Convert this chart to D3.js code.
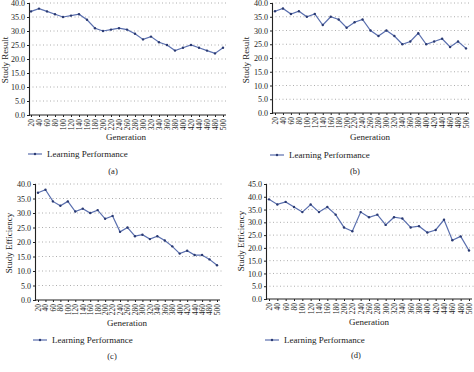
<!DOCTYPE html>
<html>
<head>
<meta charset="utf-8">
<script src="https://cdn.jsdelivr.net/npm/d3@7"></script>
<style>
  body { margin: 0; background: #fff; }
  svg { display: block; }
  text { font-family: "Liberation Serif", "DejaVu Serif", serif; fill: #222; }
</style>
</head>
<body>
<div id="chart"></div>
<script>
(function() {

    var width = 474, height = 372;

    // x categories (generation)
    var generations = [20,40,60,80,100,120,140,160,180,200,220,240,260,280,300,
                       320,340,360,380,400,420,440,460,480,500];

    // series values
    var seriesA = [37,38,37,36,35,35.5,36,34,31,30,30.5,31,30.5,29,27,28,26,25,23,24,25,24,23,22,24];
    var seriesB = [37,38,36,37,35,36,32,35,34,31,33,34,30,28,30,28,25,26,29,25,26,27,24,26,23.5];
    var seriesC = [37,38,34,32.5,34,30.5,31.5,30,31,28,29,23.5,25,22,22.5,21,22,20.5,18.5,16,17,15.5,15.5,14,12];
    var seriesD = [39,37,38,36,34,37,34,36,33,28,26.5,34,32,33,29,32,31.5,28,28.5,26,27,31,23,24.5,19];

    var ticksA = [0,5,10,15,20,25,30,35,40];
    var ticksD = [0,5,10,15,20,25,30,35,40,45];

    var svg = d3.select("#chart")
        .append("svg")
        .attr("width", width)
        .attr("height", height);

    var panels = [
        {values: seriesA, ticks: ticksA, yTitle: "Study Result", tag: "(a)",
         axisX: 29, top: 3, bottom: 115, x0: 31, x1: 223, titleX: 5, titleY: 60,
         genX: 126, genY: 137, legX: 28, legY: 154, tagX: 113, tagY: 171},
        {values: seriesB, ticks: ticksA, yTitle: "Study Result", tag: "(b)",
         axisX: 272, top: 3, bottom: 113, x0: 275, x1: 466, titleX: 246, titleY: 60,
         genX: 370, genY: 137, legX: 270, legY: 155, tagX: 355, tagY: 171},
        {values: seriesC, ticks: ticksA, yTitle: "Study Efficiency", tag: "(c)",
         axisX: 35, top: 184, bottom: 300, x0: 38, x1: 217, titleX: 9, titleY: 243,
         genX: 127, genY: 323, legX: 33, legY: 340, tagX: 112, tagY: 356},
        {values: seriesD, ticks: ticksD, yTitle: "Study Efficiency", tag: "(d)",
         axisX: 266, top: 184, bottom: 299, x0: 269, x1: 469, titleX: 241, titleY: 241,
         genX: 369, genY: 322, legX: 265, legY: 340, tagX: 356, tagY: 355}
    ];

    panels.forEach(drawPanel);

    function drawPanel(p) {
        var g = svg.append("g");
        var yMax = p.ticks[p.ticks.length - 1];

        var x = d3.scalePoint()
            .domain(generations)
            .range([p.x0, p.x1]);

        var y = d3.scaleLinear()
            .domain([0, yMax])
            .range([p.bottom, p.top]);

        // dotted grid
        g.selectAll(".grid")
            .data(p.ticks.filter(function(t) { return t > 0; }))
            .enter().append("line")
            .attr("x1", p.axisX)
            .attr("x2", p.x1 + 5)
            .attr("y1", function(d) { return y(d); })
            .attr("y2", function(d) { return y(d); })
            .attr("stroke", "#999")
            .attr("stroke-width", 0.8)
            .attr("stroke-dasharray", "1,2.5");

        // y axis
        var yAxis = g.append("g")
            .attr("transform", "translate(" + p.axisX + ",0)")
            .call(d3.axisLeft(y).tickValues(p.ticks).tickFormat(d3.format(".1f")).tickSize(2).tickPadding(2));
        yAxis.select(".domain").attr("stroke", "#222").attr("stroke-width", 1.1);
        yAxis.selectAll(".tick line").attr("stroke", "#222");
        yAxis.selectAll("text").attr("font-size", 8).attr("fill", "#222")
            .style("font-family", "Liberation Serif, serif");

        // x axis
        var xAxis = g.append("g")
            .attr("transform", "translate(0," + p.bottom + ")")
            .call(d3.axisBottom(x).tickSize(2).tickPadding(2));
        xAxis.select(".domain").attr("stroke", "#222").attr("stroke-width", 1.1)
            .attr("d", "M" + p.axisX + ",0H" + (p.x1 + 3));
        xAxis.selectAll(".tick line").attr("stroke", "#222");
        xAxis.selectAll("text")
            .attr("font-size", 7.5)
            .attr("fill", "#222")
            .style("font-family", "Liberation Serif, serif")
            .attr("transform", "rotate(-90)")
            .attr("text-anchor", "end")
            .attr("x", -4)
            .attr("y", 0)
            .attr("dy", "0.32em");

        // line
        var line = d3.line()
            .x(function(d, i) { return x(generations[i]); })
            .y(function(d) { return y(d); });

        g.append("path")
            .datum(p.values)
            .attr("d", line)
            .attr("fill", "none")
            .attr("stroke", "#5a6fae")
            .attr("stroke-width", 1.2);

        g.selectAll(".pt")
            .data(p.values)
            .enter().append("circle")
            .attr("cx", function(d, i) { return x(generations[i]); })
            .attr("cy", function(d) { return y(d); })
            .attr("r", 1.2)
            .attr("fill", "#2a3a72");

        // axis titles
        g.append("text")
            .attr("transform", "translate(" + p.titleX + "," + p.titleY + ") rotate(-90)")
            .attr("text-anchor", "middle")
            .attr("dy", "0.32em")
            .attr("font-size", 9)
            .text(p.yTitle);

        g.append("text")
            .attr("x", p.genX)
            .attr("y", p.genY)
            .attr("text-anchor", "middle")
            .attr("dy", "0.32em")
            .attr("font-size", 9)
            .text("Generation");

        // legend
        g.append("line")
            .attr("x1", p.legX).attr("x2", p.legX + 14)
            .attr("y1", p.legY).attr("y2", p.legY)
            .attr("stroke", "#5a6fae").attr("stroke-width", 1.2);
        g.append("circle")
            .attr("cx", p.legX + 7).attr("cy", p.legY).attr("r", 1.2)
            .attr("fill", "#2a3a72");
        g.append("text")
            .attr("x", p.legX + 19)
            .attr("y", p.legY)
            .attr("dy", "0.32em")
            .attr("font-size", 9)
            .text("Learning Performance");

        g.append("text")
            .attr("x", p.tagX)
            .attr("y", p.tagY)
            .attr("text-anchor", "middle")
            .attr("dy", "0.32em")
            .attr("font-size", 8.5)
            .text(p.tag);
    }

})();
</script>
</body>
</html>
